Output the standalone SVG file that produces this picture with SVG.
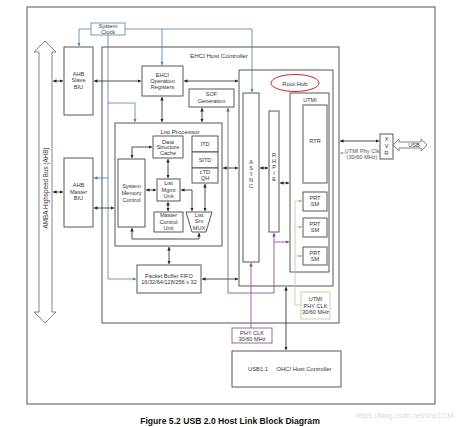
<svg xmlns="http://www.w3.org/2000/svg" width="474" height="427" viewBox="0 0 474 427">
<defs>
<marker id="a" viewBox="0 0 6 6" refX="6" refY="3" markerWidth="3.5" markerHeight="3.5" markerUnits="userSpaceOnUse" orient="auto-start-reverse"><path d="M0,0L6,3L0,6z" fill="#222"/></marker>
<marker id="b" viewBox="0 0 6 6" refX="6" refY="3" markerWidth="3.5" markerHeight="3.5" markerUnits="userSpaceOnUse" orient="auto-start-reverse"><path d="M0,0L6,3L0,6z" fill="#4a7fae"/></marker>
<marker id="p" viewBox="0 0 6 6" refX="6" refY="3" markerWidth="3.5" markerHeight="3.5" markerUnits="userSpaceOnUse" orient="auto-start-reverse"><path d="M0,0L6,3L0,6z" fill="#8e3f8e"/></marker>
<marker id="o" viewBox="0 0 6 6" refX="6" refY="3" markerWidth="3" markerHeight="3" markerUnits="userSpaceOnUse" orient="auto-start-reverse"><path d="M0,0L6,3L0,6z" fill="#b5ad72"/></marker>
</defs>
<style>
.bx{fill:#fff;stroke:#444;stroke-width:0.9}
.fr{fill:none;stroke:#555;stroke-width:1}
.t{font-family:"Liberation Sans",Arial,sans-serif;font-size:5.6px;fill:#333;text-anchor:middle}
.k{fill:none;stroke:#222;stroke-width:0.8}
.bl{fill:none;stroke:#4a7fae;stroke-width:0.8}
.pu{fill:none;stroke:#9a4f9a;stroke-width:0.9}
.ol{fill:none;stroke:#c9c290;stroke-width:0.8}
</style>
<rect width="474" height="427" fill="#fff"/>
<rect class="fr" x="27" y="7" width="408" height="397"/>
<g id="ehci-frame"><rect class="fr" x="102" y="47" width="237" height="276"/><text class="t" x="219" y="58" style="font-size:6.2px">EHCI Host Controller</text></g>
<g id="amba"><path d="M39,52H34L45,41L56,52H52V312H56L45,323L34,312H39Z" fill="#fff" stroke="#666" stroke-width="0.8"/><text class="t" transform="translate(47.5,188) rotate(-90)" style="font-size:6.3px">AMBA Highspeed Bus (AHB)</text></g>
<g id="sysclk"><rect x="91" y="23" width="34" height="12" fill="#fff" stroke="#4a7fae" stroke-width="0.8"/><text class="t" x="108" y="27.5">System</text><text class="t" x="108" y="33.5">Clock</text></g>
<g id="slave"><rect class="bx" x="64" y="47" width="29" height="68"/><text class="t" x="78.5" y="75.5">AHB</text><text class="t" x="78.5" y="82">Slave</text><text class="t" x="78.5" y="88.5">BIU</text></g>
<g id="master"><rect class="bx" x="64" y="158" width="29" height="69"/><text class="t" x="78.5" y="187">AHB</text><text class="t" x="78.5" y="193.5">Master</text><text class="t" x="78.5" y="200">BIU</text></g>
<g id="opreg"><rect class="bx" x="142" y="66" width="41" height="30"/><text class="t" x="162.5" y="77">EHCI</text><text class="t" x="162.5" y="83">Operation</text><text class="t" x="162.5" y="89">Registers</text></g>
<g id="sof"><rect class="bx" x="189" y="89" width="45" height="18"/><text class="t" x="211.5" y="96">SOF</text><text class="t" x="211.5" y="103">Generation</text></g>
<g id="listproc"><rect class="bx" x="115" y="123" width="107" height="123"/><text class="t" x="180" y="134" style="font-size:6.2px">List Processor</text></g>
<g id="dsc"><rect class="bx" x="153" y="136" width="30" height="22"/><text class="t" x="168" y="143.5">Data</text><text class="t" x="168" y="149">Structure</text><text class="t" x="168" y="155">Cache</text></g>
<g id="itd"><rect class="bx" x="192" y="136" width="26" height="16"/><text class="t" x="205" y="146">ITD</text></g>
<g id="sitd"><rect class="bx" x="192" y="152" width="26" height="16"/><text class="t" x="205" y="162">SITD</text></g>
<g id="qh"><rect class="bx" x="192" y="168" width="26" height="15"/><text class="t" x="205" y="174">cTD</text><text class="t" x="205" y="180">QH</text></g>
<g id="smc"><rect class="bx" x="118" y="159" width="27" height="68"/><text class="t" x="131.5" y="188">System</text><text class="t" x="131.5" y="195">Memory</text><text class="t" x="131.5" y="201.5">Control</text></g>
<g id="lmu"><rect class="bx" x="157" y="179" width="23" height="22"/><text class="t" x="168.5" y="185">List</text><text class="t" x="168.5" y="191.5">Mgmt</text><text class="t" x="168.5" y="198">Unit</text></g>
<g id="mcu"><rect class="bx" x="154" y="212" width="29" height="20"/><text class="t" x="168.5" y="217">Master</text><text class="t" x="168.5" y="223.5">Control</text><text class="t" x="168.5" y="230">Unit</text></g>
<g id="mux"><path class="bx" d="M186,212H212L206,232H192Z"/><text class="t" x="199" y="217">List</text><text class="t" x="199" y="223">Srv</text><text class="t" x="199" y="230">MUX</text></g>
<g id="fifo"><rect class="bx" x="137" y="265" width="64" height="28"/><text class="t" x="169" y="278">Packet Buffer FIFO</text><text class="t" x="169" y="284">16/32/64/128/256 x 32</text></g>
<g id="roothub"><rect class="bx" x="239" y="70" width="94" height="216"/><ellipse cx="295" cy="83" rx="24" ry="8.5" fill="none" stroke="#d62020" stroke-width="1"/><text class="t" x="295" y="85.5" style="font-size:6px">Root Hub</text></g>
<g id="async"><rect class="bx" x="243" y="93" width="16" height="169"/><text class="t" x="251" y="164">A</text><text class="t" x="251" y="170">S</text><text class="t" x="251" y="176">Y</text><text class="t" x="251" y="182">N</text><text class="t" x="251" y="188">C</text></g>
<g id="rhpie"><rect class="bx" x="269" y="111" width="10" height="121"/><text class="t" x="274" y="157">R</text><text class="t" x="274" y="163">H</text><text class="t" x="274" y="169">P</text><text class="t" x="274" y="175">I</text><text class="t" x="274" y="181">E</text></g>
<g id="utmi"><rect class="bx" x="290" y="93" width="39" height="179"/><text class="t" x="310" y="102">UTMI</text></g>
<g id="rtr"><rect class="bx" x="303" y="105" width="24" height="78"/><text class="t" x="315" y="143">RTR</text></g>
<g id="prt1"><rect class="bx" x="303" y="192" width="24" height="19"/><text class="t" x="315" y="200">PRT</text><text class="t" x="315" y="206">SM</text></g>
<g id="prt2"><rect class="bx" x="303" y="218" width="24" height="19"/><text class="t" x="315" y="226">PRT</text><text class="t" x="315" y="232">SM</text></g>
<g id="prt3"><rect class="bx" x="303" y="247" width="24" height="18"/><text class="t" x="315" y="254.5">PRT</text><text class="t" x="315" y="260.5">SM</text></g>
<g id="xvr"><rect class="bx" x="380" y="134" width="13" height="25"/><text class="t" x="386.5" y="141">X</text><text class="t" x="386.5" y="148">V</text><text class="t" x="386.5" y="155">R</text></g>
<g id="usb"><path d="M393,145L399,139V142H421V139L427,145L421,151V148H399V151Z" fill="#fff" stroke="#666" stroke-width="0.8"/><text class="t" x="414" y="147">USB</text></g>
<g id="utmiclk-label"><text class="t" x="362" y="153" style="fill:#555">UTMI Phy Clk</text><text class="t" x="362" y="159" style="fill:#555">(30/60 MHz)</text></g>
<g id="utmiphyclk"><rect x="301" y="292" width="29" height="27" fill="#fff" stroke="#c9c290" stroke-width="0.8"/><text class="t" x="315.5" y="301">UTMI</text><text class="t" x="315.5" y="307.5">PHY CLK</text><text class="t" x="315.5" y="314">30/60 MHz</text></g>
<g id="phyclk"><rect x="232" y="328" width="40" height="15" fill="#fff" stroke="#9a4f9a" stroke-width="0.9"/><text class="t" x="252" y="334.5">PHY CLK</text><text class="t" x="252" y="341">30/60 MHz</text></g>
<g id="ohci"><rect class="bx" x="232" y="351" width="109" height="36"/><text class="t" x="258" y="371" style="font-size:5.8px">USB1.1</text><text class="t" x="304" y="371" style="font-size:5.8px">OHCI Host Controller</text></g>
<g id="connectors">
<path class="k" d="M53,81H63" marker-start="url(#a)" marker-end="url(#a)"/>
<path class="k" d="M53,192H63" marker-start="url(#a)" marker-end="url(#a)"/>
<path class="k" d="M94,81H141" marker-start="url(#a)" marker-end="url(#a)"/>
<path class="k" d="M184,81H238" marker-start="url(#a)" marker-end="url(#a)"/>
<path class="k" d="M162,97V122" marker-start="url(#a)" marker-end="url(#a)"/>
<path class="k" d="M202,108V122" marker-start="url(#a)" marker-end="url(#a)"/>
<path class="k" d="M223,168H238" marker-start="url(#a)" marker-end="url(#a)"/>
<path class="k" d="M94,208H114" marker-start="url(#a)" marker-end="url(#a)"/>
<path class="k" d="M202,279H238" marker-start="url(#a)" marker-end="url(#a)"/>
<path class="k" d="M169,247V264" marker-start="url(#a)" marker-end="url(#a)"/>
<path class="k" d="M260,168H268" marker-start="url(#a)" marker-end="url(#a)"/>
<path class="k" d="M280,183H289" marker-start="url(#a)" marker-end="url(#a)"/>
<path class="k" d="M340,141H379" marker-start="url(#a)" marker-end="url(#a)"/>
<path class="k" d="M286,287V350" marker-start="url(#a)" marker-end="url(#a)"/>
<path class="k" d="M132,158V147H152" marker-start="url(#a)" marker-end="url(#a)"/>
<path class="k" d="M168,159V178" marker-start="url(#a)" marker-end="url(#a)"/>
<path class="k" d="M146,190H156" marker-start="url(#a)" marker-end="url(#a)"/>
<path class="k" d="M181,190H192V211" marker-start="url(#a)" marker-end="url(#a)"/>
<path class="k" d="M168,202V211" marker-start="url(#a)" marker-end="url(#a)"/>
<path class="k" d="M205,184V211" marker-start="url(#a)" marker-end="url(#a)"/>
<path class="k" d="M199,233V239H132V228" marker-start="url(#a)" marker-end="url(#a)"/>
<path class="bl" d="M91,29H79V46" marker-end="url(#b)"/>
<path class="bl" d="M125,29H252V92" marker-end="url(#b)"/>
<path class="bl" d="M162,29V65" marker-end="url(#b)"/>
<path class="bl" d="M108,35V279H136" marker-end="url(#b)"/>
<path class="bl" d="M108,103H135V122" marker-end="url(#b)"/>
<path class="bl" d="M108,178H94" marker-end="url(#b)"/>
<path class="pu" d="M274,293H228V108" marker-end="url(#p)"/>
<path class="pu" d="M274,293V233" marker-end="url(#p)"/>
<path class="pu" d="M274,242H289" marker-end="url(#p)"/>
<path class="pu" d="M251,328V263" marker-end="url(#p)"/>
<path class="ol" d="M301,305H295V201"/>
<path class="ol" d="M295,201H302" marker-end="url(#o)"/>
<path class="ol" d="M295,227H302" marker-end="url(#o)"/>
<path class="ol" d="M295,256H302" marker-end="url(#o)"/>
<path class="ol" d="M348,153H340" marker-end="url(#o)"/>
</g>
<text x="230" y="424" style="font-family:'Liberation Sans',Arial,sans-serif;font-size:8.6px;font-weight:bold;text-anchor:middle;fill:#111">Figure 5.2 USB 2.0 Host Link Block Diagram</text>
<text x="405" y="418" style="font-family:'Liberation Sans',Arial,sans-serif;font-size:7.5px;text-anchor:middle;fill:#d8d8d8">https://blog.csdn.net/shp1234</text>
</svg>
